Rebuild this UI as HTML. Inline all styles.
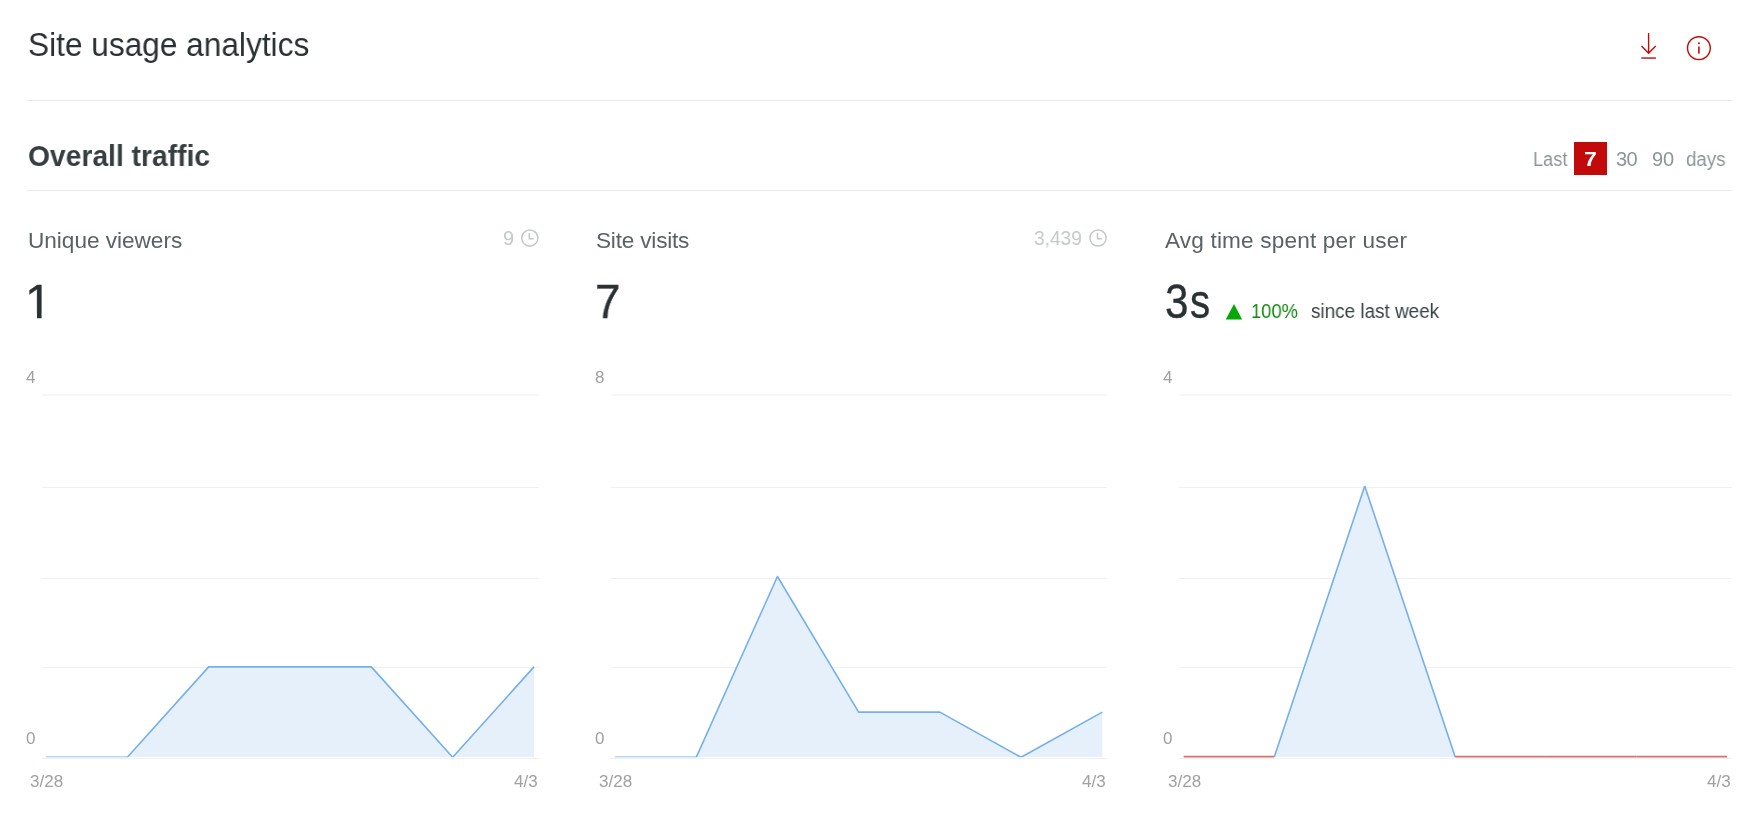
<!DOCTYPE html>
<html lang="en">
<head>
<meta charset="utf-8">
<title>Site usage analytics</title>
<style>
html,body{margin:0;padding:0;background:#fff;}
body{width:1761px;height:817px;position:relative;overflow:hidden;font-family:"Liberation Sans",Arial,sans-serif;}
.t{position:absolute;white-space:nowrap;line-height:1;will-change:transform;}
.hr{position:absolute;left:27px;width:1705px;height:1px;}
#title{left:28px;top:26.6px;font-size:34px;color:#2b3133;transform:scaleX(.93);transform-origin:0 0;}
#h2{left:28px;top:140.5px;font-size:30px;font-weight:bold;color:#363e40;transform:scaleX(.941);transform-origin:0 0;}
.rng{top:148.6px;font-size:20px;color:#8c9696;}
#box{position:absolute;left:1574px;top:142px;width:33px;height:33px;background:#c20a0a;}
#r7{left:1584.4px;top:148.9px;font-size:20px;font-weight:bold;color:#fff;transform:scaleX(1.15);transform-origin:0 0;}
.lbl{font-size:22.6px;color:#5a6264;top:229.8px;}
.tot{font-size:20px;color:#c3c8c9;top:228px;}
.big{font-size:48px;color:#2b3133;top:278.1px;-webkit-text-stroke:0.4px #2b3133;}
.ax{font-size:17px;color:#a0a0a0;}
svg{position:absolute;left:0;top:0;}
</style>
</head>
<body>
<div class="t" id="title">Site usage analytics</div>
<div class="hr" style="top:100px;background:#e8e8e8"></div>
<div class="t" id="h2">Overall traffic</div>
<div class="t rng" id="last" style="left:1533px;transform:scaleX(.91);transform-origin:0 0">Last</div>
<div id="box"></div>
<div class="t" id="r7">7</div>
<div class="t rng" id="r30" style="left:1616.4px;letter-spacing:-0.7px">30</div>
<div class="t rng" id="r90" style="left:1652px;letter-spacing:-0.1px">90</div>
<div class="t rng" id="days" style="left:1686.2px;transform:scaleX(.935);transform-origin:0 0">days</div>
<div class="hr" style="top:190px;background:#edebe9"></div>

<!-- card 1 -->
<div class="t lbl" id="l1" style="left:28px;letter-spacing:-0.02px">Unique viewers</div>
<div class="t tot" id="tot1" style="left:502.6px">9</div>
<div class="t big" id="b1" style="left:25px;clip-path:polygon(0 0,40px 0,40px 35.6px,16.6px 35.6px,16.6px 60px,12px 60px,12px 35.6px,0 35.6px)">1</div>
<div class="t ax" id="a1t" style="left:26px;top:369px">4</div>
<div class="t ax" id="a1b" style="left:26px;top:730px">0</div>
<div class="t ax" id="d1a" style="left:30px;top:773.3px">3/28</div>
<div class="t ax" id="d1b" style="left:514px;top:773.3px">4/3</div>

<!-- card 2 -->
<div class="t lbl" id="l2" style="left:596px;letter-spacing:-0.2px">Site visits</div>
<div class="t tot" id="tot2" style="left:1034px;transform:scaleX(.955);transform-origin:0 0">3,439</div>
<div class="t big" id="b2" style="left:595.2px;transform:scaleX(.95);transform-origin:0 0">7</div>
<div class="t ax" id="a2t" style="left:595px;top:369px">8</div>
<div class="t ax" id="a2b" style="left:595px;top:730px">0</div>
<div class="t ax" id="d2a" style="left:599px;top:773.3px">3/28</div>
<div class="t ax" id="d2b" style="left:1082px;top:773.3px">4/3</div>

<!-- card 3 -->
<div class="t lbl" id="l3" style="left:1164.9px;letter-spacing:0.17px">Avg time spent per user</div>
<div class="t big" id="b3" style="left:1165px"><span style="display:inline-block;transform:scaleX(.88);transform-origin:0 0">3</span><span style="display:inline-block;transform:scaleX(.84);transform-origin:0 0;margin-left:-1.6px">s</span></div>
<div class="t" id="pct" style="left:1251px;top:301.2px;font-size:20px;color:#138a13;transform:scaleX(.92);transform-origin:0 0">100%</div>
<div class="t" id="since" style="left:1310.9px;top:301.2px;font-size:20px;color:#3b4345;transform:scaleX(.945);transform-origin:0 0">since last week</div>
<div class="t ax" id="a3t" style="left:1163px;top:369px">4</div>
<div class="t ax" id="a3b" style="left:1163px;top:730px">0</div>
<div class="t ax" id="d3a" style="left:1168px;top:773.3px">3/28</div>
<div class="t ax" id="d3b" style="left:1707px;top:773.3px">4/3</div>

<svg width="1761" height="817" viewBox="0 0 1761 817">
  <!-- header icons -->
  <g fill="none" stroke="#c20a0a" stroke-width="1.4">
    <path d="M1648.6 33 V52.6 M1641.5 46.1 L1648.6 53.2 L1655.7 46.1"/>
    <path d="M1641.3 58.05 H1655.9" stroke-width="1.4"/>
    <circle cx="1698.9" cy="48.1" r="11.4"/>
  </g>
  <g fill="#c20a0a">
    <rect x="1698.1" y="42.4" width="1.7" height="1.8"/>
    <rect x="1698.1" y="46.5" width="1.6" height="7.1"/>
  </g>
  <!-- clocks -->
  <g fill="none" stroke="#c3c8c9" stroke-width="1.5">
    <circle cx="529.8" cy="238.1" r="8.1"/>
    <path d="M529.3 233.1 V238.8 H533.7"/>
    <circle cx="1098" cy="238" r="8.1"/>
    <path d="M1097.5 233 V238.7 H1101.9"/>
  </g>
  <!-- triangle -->
  <path d="M1225.7 319.6 L1234 303.9 L1242.2 319.6 Z" fill="#06a706"/>
  <!-- grid lines -->
  <g id="charts">
  <rect x="42" y="394.5" width="497" height="1.1" fill="#f1f0ef"/>
  <rect x="42" y="487" width="497" height="1" fill="#f1f0ef"/>
  <rect x="42" y="578" width="497" height="1" fill="#f1f0ef"/>
  <rect x="42" y="667" width="497" height="1" fill="#f1f0ef"/>
  <rect x="42" y="758" width="497" height="1" fill="#f1f0ef"/>
  <clipPath id="c1"><rect x="42" y="380" width="497" height="377.29999999999995"/></clipPath>
  <g clip-path="url(#c1)"><path d="M46.00,757.3 L46.00,757.30 L127.33,757.30 L208.67,666.90 L290.00,666.90 L371.33,666.90 L452.67,757.30 L534.00,666.90 L534.00,757.3 Z" fill="#e6f0fa"/><polyline points="46.00,757.30 127.33,757.30 208.67,666.90 290.00,666.90 371.33,666.90 452.67,757.30 534.00,666.90" stroke="#74b0ea" stroke-width="1.6" fill="none" stroke-linejoin="round"/></g>
  <rect x="611" y="394.5" width="496" height="1.1" fill="#f1f0ef"/>
  <rect x="611" y="487" width="496" height="1" fill="#f1f0ef"/>
  <rect x="611" y="578" width="496" height="1" fill="#f1f0ef"/>
  <rect x="611" y="667" width="496" height="1" fill="#f1f0ef"/>
  <rect x="611" y="758" width="496" height="1" fill="#f1f0ef"/>
  <clipPath id="c2"><rect x="611" y="380" width="496" height="377.29999999999995"/></clipPath>
  <g clip-path="url(#c2)"><path d="M615.00,757.3 L615.00,757.30 L696.22,757.30 L777.43,576.50 L858.65,712.10 L939.87,712.10 L1021.08,757.30 L1102.30,712.10 L1102.30,757.3 Z" fill="#e6f0fa"/><polyline points="615.00,757.30 696.22,757.30 777.43,576.50 858.65,712.10 939.87,712.10 1021.08,757.30 1102.30,712.10" stroke="#74b0ea" stroke-width="1.6" fill="none" stroke-linejoin="round"/></g>
  <rect x="1179" y="394.5" width="553" height="1.1" fill="#f1f0ef"/>
  <rect x="1179" y="487" width="553" height="1" fill="#f1f0ef"/>
  <rect x="1179" y="578" width="553" height="1" fill="#f1f0ef"/>
  <rect x="1179" y="667" width="553" height="1" fill="#f1f0ef"/>
  <rect x="1179" y="758" width="553" height="1" fill="#f1f0ef"/>
  <clipPath id="c3"><rect x="1179" y="380" width="553" height="377.29999999999995"/></clipPath>
  <g clip-path="url(#c3)"><path d="M1183.60,757.3 L1183.60,757.30 L1274.17,757.30 L1364.73,486.10 L1455.30,757.30 L1545.87,757.30 L1636.43,757.30 L1727.00,757.30 L1727.00,757.3 Z" fill="#e6f0fa"/><path d="M1274.17,757.30 L1364.73,486.10" stroke="#74b0ea" stroke-width="1.6" fill="none"/><path d="M1364.73,486.10 L1455.30,757.30" stroke="#74b0ea" stroke-width="1.6" fill="none"/></g>
  <path d="M1183.60,756.6 L1274.17,756.6" stroke="#d77070" stroke-width="1.6" fill="none"/>
  <path d="M1455.30,756.6 L1545.87,756.6" stroke="#d77070" stroke-width="1.6" fill="none"/>
  <path d="M1545.87,756.6 L1636.43,756.6" stroke="#d77070" stroke-width="1.6" fill="none"/>
  <path d="M1636.43,756.6 L1727.00,756.6" stroke="#d77070" stroke-width="1.6" fill="none"/>

  </g>
</svg>
</body>
</html>
